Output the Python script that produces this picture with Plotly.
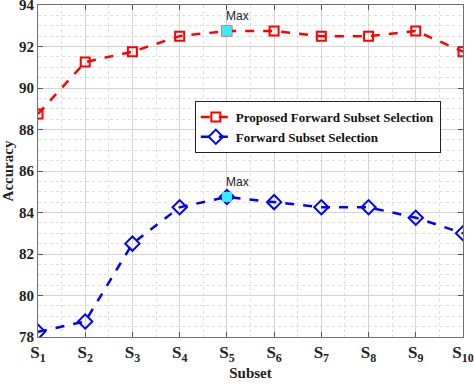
import plotly.graph_objects as go

subsets = list(range(1, 11))
tick_labels = [f"S<sub>{i}</sub>" for i in subsets]
proposed_fss = [88.75, 91.25, 91.75, 92.5, 92.75, 92.75, 92.5, 92.5, 92.75, 91.75]
fss = [78.25, 78.75, 82.5, 84.25, 84.75, 84.5, 84.25, 84.25, 83.75, 83.0]
max_idx = 4  # S5

serif = "Liberation Serif, Times New Roman, serif"

fig = go.Figure()
fig.add_trace(go.Scatter(
    x=subsets, y=proposed_fss, mode="lines+markers",
    name="Proposed Forward Subset Selection",
    line=dict(color="#ff0000", width=2.5, dash="dash"),
    marker=dict(symbol="square-open", size=9, color="#ff0000", line=dict(width=2)),
))
fig.add_trace(go.Scatter(
    x=subsets, y=fss, mode="lines+markers",
    name="Forward Subset Selection",
    line=dict(color="#0000ff", width=2.5, dash="dash"),
    marker=dict(symbol="diamond-open", size=11, color="#0000ff", line=dict(width=2)),
))
fig.add_trace(go.Scatter(
    x=[subsets[max_idx], subsets[max_idx]],
    y=[proposed_fss[max_idx], fss[max_idx]],
    mode="markers", showlegend=False,
    marker=dict(symbol="square", size=10, color="#33eeff"),
))
for yv in (proposed_fss[max_idx], fss[max_idx]):
    fig.add_annotation(x=subsets[max_idx], y=yv, text="Max", showarrow=False,
                       xanchor="left", yanchor="bottom", xshift=-3, yshift=6,
                       font=dict(family="Liberation Sans, Arial", size=12, color="#222"))

axis_common = dict(
    showline=True, linecolor="#707070", linewidth=1, mirror="ticks",
    ticks="inside", ticklen=5, tickcolor="#555",
    showgrid=True, gridcolor="#d4d4d4", gridwidth=1,
    zeroline=False, automargin=False, ticklabeloverflow="allow",
    tickfont=dict(family=serif, size=15, color="#222", weight="bold"),
    title_font=dict(family=serif, size=15, color="#222", weight="bold"),
    minor=dict(showgrid=True, gridcolor="#dedede", griddash="dot", gridwidth=1, nticks=6),
)

fig.update_xaxes(axis_common, range=[1, 10.0001], tickvals=subsets, ticktext=tick_labels,
                 title_text="Subset", title_standoff=3,
                 tickfont=dict(family=serif, size=17, color="#222", weight="bold"))
fig.update_yaxes(axis_common, range=[78, 94.0001], tick0=78, dtick=2,
                 title_text="Accuracy", title_standoff=4)

fig.update_layout(
    width=474, height=384,
    margin=dict(l=38, r=11, t=5, b=47, autoexpand=False),
    paper_bgcolor="white", plot_bgcolor="white",
    legend=dict(x=0.369, y=0.711, xanchor="left", yanchor="top",
                bgcolor="white", bordercolor="#222", borderwidth=1,
                font=dict(family=serif, size=13, color="#111", weight="bold"),
                tracegroupgap=0, itemwidth=30),
)

fig.write_html("out.html", config={"displayModeBar": False},
               post_script="document.body.style.margin='0';document.body.style.padding='0';")
